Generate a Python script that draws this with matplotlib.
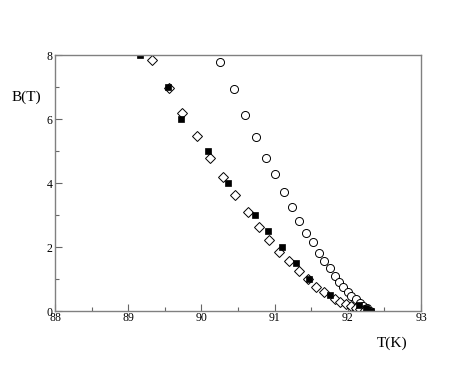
import matplotlib
matplotlib.use("Agg")
import matplotlib.pyplot as plt
from matplotlib.ticker import MultipleLocator

plt.rcParams['font.family'] = ['Liberation Serif', 'DejaVu Serif']

# Filled squares
sq_T = [89.16, 89.54, 89.72, 90.09, 90.37, 90.73, 90.91, 91.10, 91.29, 91.47, 91.75, 92.15, 92.25, 92.32]
sq_B = [8.0, 7.0, 6.0, 5.0, 4.0, 3.0, 2.5, 2.0, 1.5, 1.0, 0.5, 0.2, 0.1, 0.0]

# Open diamonds
di_T = [89.33, 89.56, 89.74, 89.94, 90.12, 90.29, 90.46, 90.63, 90.79, 90.93, 91.06, 91.20,
        91.33, 91.46, 91.57, 91.67, 91.83, 91.90, 91.97, 92.04, 92.11, 92.17, 92.23, 92.28]
di_B = [7.84, 6.96, 6.20, 5.46, 4.77, 4.18, 3.61, 3.09, 2.64, 2.22, 1.85, 1.55,
        1.26, 1.00, 0.76, 0.58, 0.37, 0.29, 0.22, 0.16, 0.10, 0.06, 0.03, 0.01]

# Open circles
ci_T = [90.26, 90.44, 90.60, 90.75, 90.88, 91.01, 91.13, 91.24, 91.34, 91.43, 91.52, 91.61,
        91.67, 91.75, 91.82, 91.88, 91.94, 92.00, 92.05, 92.11, 92.16, 92.21, 92.26, 92.30]
ci_B = [7.77, 6.93, 6.12, 5.44, 4.79, 4.27, 3.71, 3.25, 2.82, 2.45, 2.15, 1.82,
        1.56, 1.33, 1.10, 0.92, 0.76, 0.60, 0.47, 0.37, 0.26, 0.16, 0.08, 0.01]

fig = plt.figure(figsize=(4.74, 3.66), dpi=100)
ax = fig.add_axes([55/474, 1-311/366, (421-55)/474, (311-55)/366])

ax.plot(ci_T, ci_B, linestyle='none', marker='o', markersize=5.8,
        markerfacecolor='white', markeredgecolor='black', markeredgewidth=0.7)
ax.plot(di_T, di_B, linestyle='none', marker='D', markersize=4.9,
        markerfacecolor='white', markeredgecolor='black', markeredgewidth=0.7)
ax.plot(sq_T, sq_B, linestyle='none', marker='s', markersize=5,
        markerfacecolor='black', markeredgecolor='black', markeredgewidth=0.5)

ax.set_xlim(88, 93)
ax.set_ylim(0, 8)
ax.xaxis.set_major_locator(MultipleLocator(1))
ax.xaxis.set_minor_locator(MultipleLocator(0.5))
ax.yaxis.set_major_locator(MultipleLocator(2))
ax.yaxis.set_minor_locator(MultipleLocator(1))
ax.tick_params(which='both', direction='in', color='#666666', labelsize=8.5,
               top=False, right=False)
ax.tick_params(axis='x', which='major', length=5, width=0.8, pad=1)
ax.tick_params(axis='y', which='major', length=5, width=0.8, pad=2)
ax.tick_params(which='minor', length=3, width=0.8)
for s in ax.spines.values():
    s.set_color('#808080')
    s.set_linewidth(1.0)

fig.text(26/474, 1-97/366, 'B(T)', fontsize=11, ha='center', va='center')
fig.text(392/474, 1-343/366, 'T(K)', fontsize=11, ha='center', va='center')

fig.savefig('out.png', dpi=100)
